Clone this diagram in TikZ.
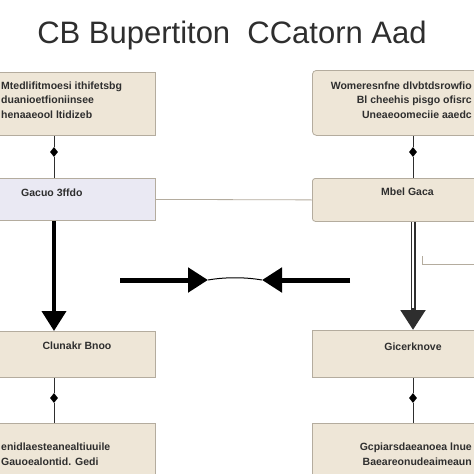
\documentclass[tikz,border=0pt]{standalone}
\usepackage{fontspec}
\setmainfont{Liberation Sans}
\usetikzlibrary{arrows.meta,shapes.geometric,positioning}
\definecolor{boxbeige}{HTML}{EEE6D7}
\definecolor{boxlilac}{HTML}{EAE9F3}
\definecolor{boxline}{HTML}{B4AC9E}
\definecolor{inkgray}{HTML}{2E2E2E}
\begin{document}
\begin{tikzpicture}[x=1pt,y=-1pt,
  box/.style={draw=boxline,fill=boxbeige,line width=0.8pt,anchor=north west,inner sep=0pt},
  boxtext/.style={font=\bfseries\fontsize{10.5}{14.5}\selectfont,text=inkgray,inner sep=0pt},
  joint/.style={diamond,fill=black,inner sep=0pt,minimum width=8pt,minimum height=10pt},
  thin link/.style={draw=inkgray,line width=1pt},
  big arrow/.style={line width=4.5pt,-{Triangle[width=24pt,length=20pt]}}]
\useasboundingbox (0,0) rectangle (474,474);
\fill[white] (0,0) rectangle (474,474);

% title
\node[font=\fontsize{31}{34}\selectfont,text=inkgray] (title) at (232,35) {CB Bupertiton\ \ CCatorn Aad};

% boxes, left column
\node[box,minimum width=160pt,minimum height=63pt] (topL) at (-5,72) {};
\node[box,fill=boxlilac,minimum width=160pt,minimum height=42pt] (midL) at (-5,178) {};
\node[box,minimum width=160pt,minimum height=46pt] (botL) at (-5,331) {};
\node[box,minimum width=160pt,minimum height=70pt] (lowL) at (-5,423) {};

% boxes, right column
\node[box,rounded corners=4pt,minimum width=168pt,minimum height=65pt] (topR) at (312,70) {};
\node[box,rounded corners=3pt,minimum width=168pt,minimum height=43pt] (midR) at (312,178) {};
\node[box,minimum width=168pt,minimum height=47pt] (botR) at (312,330) {};
\node[box,minimum width=168pt,minimum height=70pt] (lowR) at (312,423) {};

% texts
\node[boxtext,align=left,anchor=west] (topLtext) at (1,100) {Mtedlifitmoesi ithifetsbg\\duanioetfioniinsee\\henaaeool ltidizeb};
\node[boxtext,align=right,anchor=east] (topRtext) at (472,100) {Womeresnfne dlvbtdsrowfio\\Bl cheehis pisgo ofisrc\\Uneaeoomeciie aaedc};
\node[boxtext,anchor=west] (midLtext) at (21,193) {Gacuo 3ffdo};
\node[boxtext,anchor=west] (midRtext) at (381,192) {Mbel Gaca};
\node[boxtext] (botLtext) at (77,346) {Clunakr Bnoo};
\node[boxtext] (botRtext) at (413,347) {Gicerknove};
\node[boxtext,align=left,anchor=west] (lowLtext) at (1,454) {enidlaesteanealtiuuile\\Gauoealontid. Gedi};
\node[boxtext,align=right,anchor=east] (lowRtext) at (472,454) {Gcpiarsdaeanoea lnue\\Baeareonudeaimeaun};

% connector columns
\coordinate (cL) at (54,0);
\coordinate (cR) at (413,0);
\node[joint] (jL1) at (54,152) {};
\node[joint] (jR1) at (413,152) {};
\node[joint] (jL2) at (54,398) {};
\node[joint] (jR2) at (413,398) {};

\draw[thin link] (topL.south -| cL) -- (jL1) -- (midL.north -| cL);
\draw[thin link] (topR.south -| cR) -- (jR1) -- (midR.north -| cR);
\draw[thin link] (botL.south -| cL) -- (jL2) -- (lowL.north -| cL);
\draw[thin link] (botR.south -| cR) -- (jR2) -- (lowR.north -| cR);

% link between middle boxes
\draw[boxline,line width=0.8pt] (midL.east) -- (midR.west);

% down arrows
\draw[big arrow,line width=4pt] (midL.south -| cL) -- (botL.north -| cL);
\draw[big arrow,draw=inkgray,line width=5pt] (midR.south -| cR) -- (botR.north -| cR);
\draw[white,line width=1.6pt,shorten >=22pt] (midR.south -| cR) -- (botR.north -| cR);

% side tick
\coordinate (tk) at (422,256);
\coordinate (tkEnd) at (480,264);
\draw[boxline,line width=0.8pt] (tk) -- (tk |- tkEnd) -- (tkEnd);

% middle arrows
\coordinate (aL) at (120,280);
\coordinate (aM1) at (208,280);
\coordinate (aM2) at (262,280);
\coordinate (aR) at (350,280);
\draw[big arrow,line width=5pt] (aL) -- (aM1);
\draw[big arrow,line width=5pt] (aR) -- (aM2);
\draw[line width=1pt] (aM1) .. controls (225,277) and (245,277) .. (aM2);
\end{tikzpicture}
\end{document}
